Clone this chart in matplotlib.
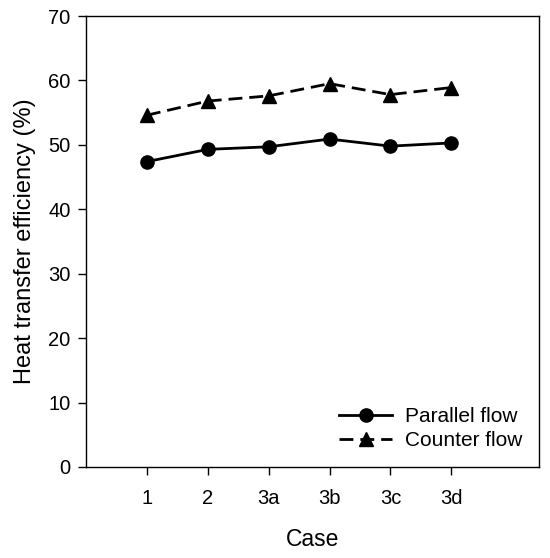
import matplotlib.pyplot as plt

plt.rcParams['font.family'] = ['Liberation Sans', 'DejaVu Sans']

cases = ['1', '2', '3a', '3b', '3c', '3d']
parallel_flow = [47.4, 49.3, 49.7, 50.9, 49.8, 50.3]
counter_flow = [54.6, 56.8, 57.6, 59.5, 57.8, 58.9]

x = list(range(1, len(cases) + 1))

fig = plt.figure(figsize=(5.5, 5.58), dpi=100)
ax = fig.add_axes([86 / 550, 1 - 467 / 558, (539 - 86) / 550, (467 - 16) / 558])

ax.plot(x, parallel_flow, '-', color='black', lw=2, marker='o', ms=9.5,
        label='Parallel flow')
ax.plot(x, counter_flow, '--', color='black', lw=2, marker='^', ms=10,
        dashes=(5, 2.5), label='Counter flow')

ax.set_xlim(0, 7.44)
ax.set_ylim(0, 70)
ax.set_xticks(x)
ax.set_xticklabels(cases)
ax.set_yticks(range(0, 71, 10))
ax.tick_params(direction='out', length=6, width=1, labelsize=14.5, top=False, right=False)
ax.tick_params(axis='x', pad=10)
ax.tick_params(axis='y', pad=5)
for s in ax.spines.values():
    s.set_linewidth(1)

ax.set_xlabel('Case', fontsize=16.5, labelpad=14)
ax.set_ylabel('Heat transfer efficiency (%)', fontsize=17, labelpad=9)

ax.legend(loc='lower right', frameon=False, fontsize=15, handlelength=2.55,
          handletextpad=0.6, borderaxespad=0.4, labelspacing=0.25)

fig.savefig('out.png', dpi=100)
